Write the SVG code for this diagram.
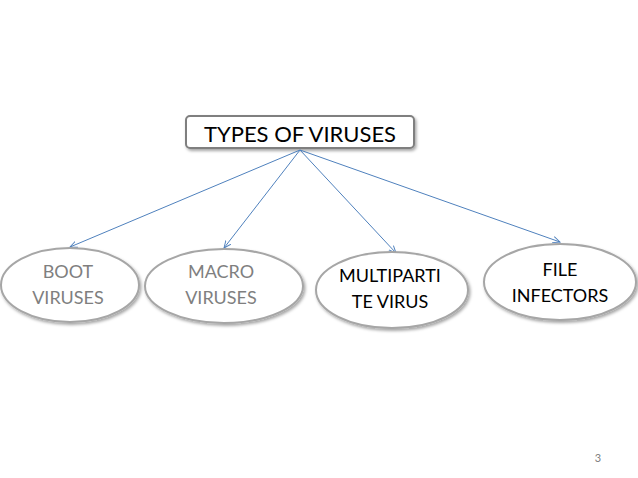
<svg xmlns="http://www.w3.org/2000/svg" width="638" height="478" viewBox="0 0 638 478">
<style>
text{font-family:Lato,"Open Sans",sans-serif;text-anchor:middle}
.e{fill:#fff;stroke:#a6a6a6;stroke-width:2}
.c{stroke:#4f81bd;stroke-width:1;fill:none;marker-end:url(#a)}
</style>
<defs>
<marker id="a" viewBox="0 0 10 10" refX="9" refY="5" markerWidth="8" markerHeight="8" orient="auto" markerUnits="userSpaceOnUse"><path d="M0 1L9 5L0 9" fill="none" stroke="#4f81bd" stroke-width="1.2"/></marker>
<filter id="s" x="-10%" y="-10%" width="130%" height="140%"><feDropShadow dx="1.5" dy="2" stdDeviation="1.5" flood-color="#000" flood-opacity="0.35"/></filter>
</defs>
<rect width="638" height="478" fill="#fff"/>
<g id="root"><rect x="186" y="116" width="228" height="32" rx="4" fill="#fff" stroke="#7f7f7f" stroke-width="2" filter="url(#s)"/><text x="300" y="142" font-size="22" fill="#000">TYPES OF VIRUSES</text></g>
<g id="connectors">
<line class="c" x1="300" y1="150" x2="70" y2="247"/>
<line class="c" x1="300" y1="150" x2="224" y2="248"/>
<line class="c" x1="300" y1="150" x2="396" y2="253"/>
<line class="c" x1="300" y1="150" x2="560" y2="242"/>
</g>
<g id="boot"><ellipse class="e" cx="70" cy="285" rx="69" ry="37" filter="url(#s)"/><text x="68" y="278" font-size="18" fill="#7f7f7f">BOOT</text><text x="68" y="304" font-size="18" fill="#7f7f7f">VIRUSES</text></g>
<g id="macro"><ellipse class="e" cx="224" cy="286" rx="79" ry="37" filter="url(#s)"/><text x="221" y="278" font-size="18" fill="#7f7f7f">MACRO</text><text x="221" y="304" font-size="18" fill="#7f7f7f">VIRUSES</text></g>
<g id="multi"><ellipse class="e" cx="392" cy="290" rx="76" ry="38" filter="url(#s)"/><text x="390" y="282" font-size="18" fill="#000">MULTIPARTI</text><text x="390" y="308" font-size="18" fill="#000">TE VIRUS</text></g>
<g id="file"><ellipse class="e" cx="560" cy="282" rx="76" ry="38" filter="url(#s)"/><text x="560" y="276" font-size="18" fill="#000">FILE</text><text x="560" y="302" font-size="18" fill="#000">INFECTORS</text></g>
<text x="598" y="462" font-size="11" fill="#7f7f7f">3</text>
</svg>
